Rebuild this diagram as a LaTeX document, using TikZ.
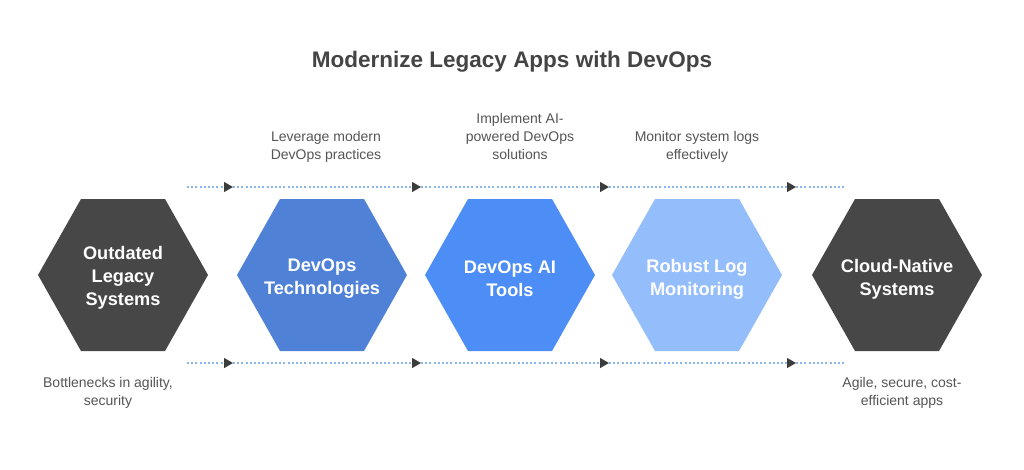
\documentclass[tikz,border=0pt]{standalone}
\usepackage{fontspec}
\setmainfont{Liberation Sans}
\usetikzlibrary{arrows.meta}

\definecolor{darkhex}{HTML}{474747}
\definecolor{techblue}{HTML}{4F81D6}
\definecolor{aiblue}{HTML}{4C8EF5}
\definecolor{logblue}{HTML}{94BDFC}
\definecolor{flowblue}{HTML}{8AB4F8}
\definecolor{tipgray}{HTML}{3C3C3C}
\definecolor{notegray}{HTML}{555555}
\definecolor{titlegray}{HTML}{444444}

\tikzset{
  hexlabel/.style={text=white, font=\bfseries\fontsize{18.2}{23}\selectfont, align=center},
  note/.style={text=notegray, font=\fontsize{14}{18}\selectfont, align=center},
  flow/.style={draw=flowblue, line width=1.3pt, dash pattern=on 2pt off 2.2pt,
    -{Triangle[length=9pt,width=10pt,fill=tipgray,color=tipgray,sep=0pt]}},
  flowend/.style={draw=flowblue, line width=1.3pt, dash pattern=on 2pt off 2.2pt}
}

\newcommand{\hexshape}[2]{% centre x, colour
  \fill[#2] ({#1-85},275) -- ({#1-42},199) -- ({#1+42},199) -- ({#1+85},275)
    -- ({#1+42},351) -- ({#1-42},351) -- cycle;}

\begin{document}
\begin{tikzpicture}[x=1pt,y=-1pt]
    % frame
    \useasboundingbox (0,0) rectangle (1024,469);
    \fill[white] (0,0) rectangle (1024,469);

    % title
    \node[text=titlegray, font=\bfseries\fontsize{22.5}{26}\selectfont] (title) at (512,62) {Modernize Legacy Apps with DevOps};

    % hexagons
    \hexshape{123}{darkhex}
    \hexshape{322}{techblue}
    \hexshape{510}{aiblue}
    \hexshape{697}{logblue}
    \hexshape{897}{darkhex}

    \node[hexlabel] (legacy) at (123,278) {Outdated\\Legacy\\Systems};
    \node[hexlabel] (tech) at (322,279) {DevOps\\Technologies};
    \node[hexlabel] (ai) at (510,279) {DevOps AI\\Tools};
    \node[hexlabel] (logs) at (697,279) {Robust Log\\Monitoring};
    \node[hexlabel] (cloud) at (897,279) {Cloud-Native\\Systems};

    % flow rows
    \foreach \row/\yy in {top/187, bot/363} {
      \coordinate (\row0) at (187,\yy);
      \coordinate (\row1) at (233,\yy);
      \coordinate (\row2) at (421,\yy);
      \coordinate (\row3) at (609,\yy);
      \coordinate (\row4) at (796,\yy);
      \coordinate (\row5) at (845,\yy);
      \draw[flow] (\row0) -- (\row1);
      \draw[flow] (\row1) -- (\row2);
      \draw[flow] (\row2) -- (\row3);
      \draw[flow] (\row3) -- (\row4);
      \draw[flowend] (\row4) -- (\row5);
    }

    % notes
    \node[note] (leverage) at (326,147) {Leverage modern\\DevOps practices};
    \node[note] (implement) at (520,136) {Implement AI-\\powered DevOps\\solutions};
    \node[note] (monitor) at (697,147) {Monitor system logs\\effectively};
    \node[note] (bottle) at (108,393) {Bottlenecks in agility,\\security};
    \node[note] (agile) at (902,393) {Agile, secure, cost-\\efficient apps};

\end{tikzpicture}
\end{document}
